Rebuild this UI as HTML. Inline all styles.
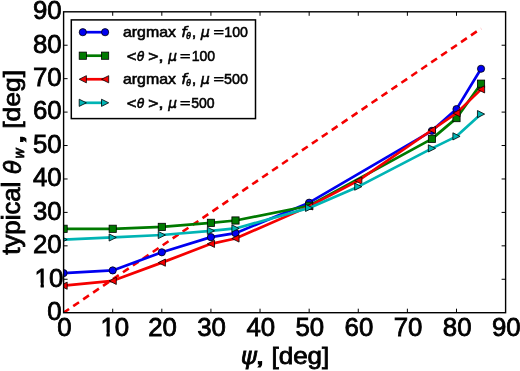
<!DOCTYPE html>
<html><head><meta charset="utf-8"><style>
html,body{margin:0;padding:0;background:#fff;width:520px;height:371px;overflow:hidden}
svg{display:block}
text{font-family:'Liberation Sans', Arial, sans-serif;fill:#000;stroke:#000;stroke-width:0.8px}
.dj{font-family:'DejaVu Sans',sans-serif}
.leg text{stroke-width:0.55px}
.leg text.eq{stroke-width:0.25px}
</style></head><body>
<svg width="520" height="371" viewBox="0 0 520 371"><rect width="520" height="371" fill="#fff"/><defs><clipPath id="ax"><rect x="63.6" y="11.8" width="442.0" height="300.9"/></clipPath></defs>
<g clip-path="url(#ax)">
<line x1="63.60" y1="312.70" x2="481.04" y2="28.52" stroke="#f50000" stroke-width="2.6" stroke-dasharray="7 5.03" stroke-dashoffset="0.38"/>
<polyline points="63.60,273.08 112.71,270.41 161.82,252.29 210.93,237.14 235.49,233.13 309.16,202.70 431.93,130.82 456.49,109.09 481.04,68.77" fill="none" stroke="#0000f0" stroke-width="2.7" stroke-linejoin="round" stroke-linecap="butt"/>
<circle cx="63.60" cy="273.08" r="3.60" fill="#0000f0" stroke="#000" stroke-width="0.8"/>
<circle cx="112.71" cy="270.41" r="3.60" fill="#0000f0" stroke="#000" stroke-width="0.8"/>
<circle cx="161.82" cy="252.29" r="3.60" fill="#0000f0" stroke="#000" stroke-width="0.8"/>
<circle cx="210.93" cy="237.14" r="3.60" fill="#0000f0" stroke="#000" stroke-width="0.8"/>
<circle cx="235.49" cy="233.13" r="3.60" fill="#0000f0" stroke="#000" stroke-width="0.8"/>
<circle cx="309.16" cy="202.70" r="3.60" fill="#0000f0" stroke="#000" stroke-width="0.8"/>
<circle cx="431.93" cy="130.82" r="3.60" fill="#0000f0" stroke="#000" stroke-width="0.8"/>
<circle cx="456.49" cy="109.09" r="3.60" fill="#0000f0" stroke="#000" stroke-width="0.8"/>
<circle cx="481.04" cy="68.77" r="3.60" fill="#0000f0" stroke="#000" stroke-width="0.8"/>
<polyline points="63.60,228.78 112.71,228.78 161.82,226.88 210.93,222.83 235.49,220.49 309.16,205.71 431.93,138.85 456.49,118.12 481.04,83.68" fill="none" stroke="#007a00" stroke-width="2.7" stroke-linejoin="round" stroke-linecap="butt"/>
<rect x="60.00" y="225.18" width="7.20" height="7.20" fill="#007a00" stroke="#000" stroke-width="0.8"/>
<rect x="109.11" y="225.18" width="7.20" height="7.20" fill="#007a00" stroke="#000" stroke-width="0.8"/>
<rect x="158.22" y="223.28" width="7.20" height="7.20" fill="#007a00" stroke="#000" stroke-width="0.8"/>
<rect x="207.33" y="219.23" width="7.20" height="7.20" fill="#007a00" stroke="#000" stroke-width="0.8"/>
<rect x="231.89" y="216.89" width="7.20" height="7.20" fill="#007a00" stroke="#000" stroke-width="0.8"/>
<rect x="305.56" y="202.11" width="7.20" height="7.20" fill="#007a00" stroke="#000" stroke-width="0.8"/>
<rect x="428.33" y="135.25" width="7.20" height="7.20" fill="#007a00" stroke="#000" stroke-width="0.8"/>
<rect x="452.89" y="114.52" width="7.20" height="7.20" fill="#007a00" stroke="#000" stroke-width="0.8"/>
<rect x="477.44" y="80.08" width="7.20" height="7.20" fill="#007a00" stroke="#000" stroke-width="0.8"/>
<polyline points="63.60,285.69 112.71,280.84 161.82,262.62 210.93,243.83 235.49,238.48 309.16,206.38 358.27,180.64 431.93,129.99 456.49,113.10 481.04,89.37" fill="none" stroke="#f50000" stroke-width="2.7" stroke-linejoin="round" stroke-linecap="butt"/>
<polygon points="60.00,285.69 67.20,282.09 67.20,289.29" fill="#f50000" stroke="#000" stroke-width="0.8" stroke-linejoin="miter"/>
<polygon points="109.11,280.84 116.31,277.24 116.31,284.44" fill="#f50000" stroke="#000" stroke-width="0.8" stroke-linejoin="miter"/>
<polygon points="158.22,262.62 165.42,259.02 165.42,266.22" fill="#f50000" stroke="#000" stroke-width="0.8" stroke-linejoin="miter"/>
<polygon points="207.33,243.83 214.53,240.23 214.53,247.43" fill="#f50000" stroke="#000" stroke-width="0.8" stroke-linejoin="miter"/>
<polygon points="231.89,238.48 239.09,234.88 239.09,242.08" fill="#f50000" stroke="#000" stroke-width="0.8" stroke-linejoin="miter"/>
<polygon points="305.56,206.38 312.76,202.78 312.76,209.98" fill="#f50000" stroke="#000" stroke-width="0.8" stroke-linejoin="miter"/>
<polygon points="354.67,180.64 361.87,177.04 361.87,184.24" fill="#f50000" stroke="#000" stroke-width="0.8" stroke-linejoin="miter"/>
<polygon points="428.33,129.99 435.53,126.39 435.53,133.59" fill="#f50000" stroke="#000" stroke-width="0.8" stroke-linejoin="miter"/>
<polygon points="452.89,113.10 460.09,109.50 460.09,116.70" fill="#f50000" stroke="#000" stroke-width="0.8" stroke-linejoin="miter"/>
<polygon points="477.44,89.37 484.64,85.77 484.64,92.97" fill="#f50000" stroke="#000" stroke-width="0.8" stroke-linejoin="miter"/>
<polyline points="63.60,239.58 112.71,237.47 161.82,235.00 210.93,230.79 235.49,228.45 309.16,207.89 358.27,186.66 431.93,148.38 456.49,136.37 481.04,114.11" fill="none" stroke="#00b4b4" stroke-width="2.7" stroke-linejoin="round" stroke-linecap="butt"/>
<polygon points="67.20,239.58 60.00,235.98 60.00,243.18" fill="#00b4b4" stroke="#000" stroke-width="0.8" stroke-linejoin="miter"/>
<polygon points="116.31,237.47 109.11,233.88 109.11,241.07" fill="#00b4b4" stroke="#000" stroke-width="0.8" stroke-linejoin="miter"/>
<polygon points="165.42,235.00 158.22,231.40 158.22,238.60" fill="#00b4b4" stroke="#000" stroke-width="0.8" stroke-linejoin="miter"/>
<polygon points="214.53,230.79 207.33,227.19 207.33,234.39" fill="#00b4b4" stroke="#000" stroke-width="0.8" stroke-linejoin="miter"/>
<polygon points="239.09,228.45 231.89,224.85 231.89,232.05" fill="#00b4b4" stroke="#000" stroke-width="0.8" stroke-linejoin="miter"/>
<polygon points="312.76,207.89 305.56,204.29 305.56,211.49" fill="#00b4b4" stroke="#000" stroke-width="0.8" stroke-linejoin="miter"/>
<polygon points="361.87,186.66 354.67,183.06 354.67,190.26" fill="#00b4b4" stroke="#000" stroke-width="0.8" stroke-linejoin="miter"/>
<polygon points="435.53,148.38 428.33,144.78 428.33,151.98" fill="#00b4b4" stroke="#000" stroke-width="0.8" stroke-linejoin="miter"/>
<polygon points="460.09,136.37 452.89,132.77 452.89,139.97" fill="#00b4b4" stroke="#000" stroke-width="0.8" stroke-linejoin="miter"/>
<polygon points="484.64,114.11 477.44,110.51 477.44,117.71" fill="#00b4b4" stroke="#000" stroke-width="0.8" stroke-linejoin="miter"/>
</g>
<path d="M112.71,312.7V308.7M112.71,11.8V15.8M63.6,279.27H67.6M505.6,279.27H501.6M161.82,312.7V308.7M161.82,11.8V15.8M63.6,245.83H67.6M505.6,245.83H501.6M210.93,312.7V308.7M210.93,11.8V15.8M63.6,212.40H67.6M505.6,212.40H501.6M260.04,312.7V308.7M260.04,11.8V15.8M63.6,178.97H67.6M505.6,178.97H501.6M309.16,312.7V308.7M309.16,11.8V15.8M63.6,145.53H67.6M505.6,145.53H501.6M358.27,312.7V308.7M358.27,11.8V15.8M63.6,112.10H67.6M505.6,112.10H501.6M407.38,312.7V308.7M407.38,11.8V15.8M63.6,78.67H67.6M505.6,78.67H501.6M456.49,312.7V308.7M456.49,11.8V15.8M63.6,45.23H67.6M505.6,45.23H501.6" stroke="#000" stroke-width="1" fill="none"/>
<rect x="63.6" y="11.8" width="442.0" height="300.9" fill="none" stroke="#000" stroke-width="1.4"/>
<defs><clipPath id="cx1"><rect x="95.46" y="296.00" width="43.54" height="36.27"/><rect x="106.50" y="331.27" width="3.18" height="7.73"/><rect x="114.64" y="331.27" width="33.54" height="13.73"/></clipPath><clipPath id="cy1"><rect x="29.60" y="246.57" width="43.54" height="36.27"/><rect x="40.64" y="281.84" width="3.18" height="7.73"/><rect x="48.78" y="281.84" width="33.54" height="13.73"/></clipPath></defs>
<g font-size="25.8"><text x="57.13" y="336.00">0</text><text x="47.25" y="320.00">0</text><text x="100.46" y="336.00" clip-path="url(#cx1)">10</text><text x="34.60" y="286.57" clip-path="url(#cy1)">10</text><text x="148.17" y="336.00">20</text><text x="32.90" y="253.13">20</text><text x="197.28" y="336.00">30</text><text x="32.90" y="219.70">30</text><text x="246.40" y="336.00">40</text><text x="32.90" y="186.27">40</text><text x="295.51" y="336.00">50</text><text x="32.90" y="152.83">50</text><text x="344.62" y="336.00">60</text><text x="32.90" y="119.40">60</text><text x="393.73" y="336.00">70</text><text x="32.90" y="85.97">70</text><text x="442.84" y="336.00">80</text><text x="32.90" y="52.53">80</text><text x="491.95" y="336.00">90</text><text x="32.90" y="19.10">90</text></g>
<g><text x="240.75" y="364.00" font-size="23" class="dj" font-style="italic" textLength="16.07" lengthAdjust="spacingAndGlyphs">ψ</text><text x="255.28" y="364.10" font-size="24" textLength="9.34" lengthAdjust="spacingAndGlyphs">,</text><text x="271.55" y="364.10" font-size="24" textLength="57.70" lengthAdjust="spacingAndGlyphs">[deg]</text></g>
<g transform="translate(20.3,0) rotate(-90)"><text x="-254.69" y="0.00" font-size="25" textLength="73.01" lengthAdjust="spacingAndGlyphs">typical</text><text x="-174.02" y="0.80" font-size="22.8" class="dj" font-style="italic" textLength="14.02" lengthAdjust="spacingAndGlyphs">θ</text><text x="-158.83" y="3.50" font-size="14" class="dj" font-style="italic" textLength="10.92" lengthAdjust="spacingAndGlyphs">w</text><text x="-145.25" y="2.30" font-size="24" textLength="11.61" lengthAdjust="spacingAndGlyphs">,</text><text x="-128.89" y="0.00" font-size="24.5" textLength="58.87" lengthAdjust="spacingAndGlyphs">[deg]</text></g>
<g class="leg"><rect x="71.3" y="19.9" width="184.2" height="98.69999999999999" fill="#fff" stroke="#000" stroke-width="1.5"/><line x1="82.8" y1="32.2" x2="105.1" y2="32.2" stroke="#0000f0" stroke-width="2.7"/><circle cx="82.80" cy="32.20" r="3.60" fill="#0000f0" stroke="#000" stroke-width="0.8"/><circle cx="105.10" cy="32.20" r="3.60" fill="#0000f0" stroke="#000" stroke-width="0.8"/><line x1="82.8" y1="55.7" x2="105.1" y2="55.7" stroke="#007a00" stroke-width="2.7"/><rect x="79.20" y="52.10" width="7.20" height="7.20" fill="#007a00" stroke="#000" stroke-width="0.8"/><rect x="101.50" y="52.10" width="7.20" height="7.20" fill="#007a00" stroke="#000" stroke-width="0.8"/><line x1="82.8" y1="79.26" x2="105.1" y2="79.26" stroke="#f50000" stroke-width="2.7"/><polygon points="79.20,79.26 86.40,75.66 86.40,82.86" fill="#f50000" stroke="#000" stroke-width="0.8" stroke-linejoin="miter"/><polygon points="101.50,79.26 108.70,75.66 108.70,82.86" fill="#f50000" stroke="#000" stroke-width="0.8" stroke-linejoin="miter"/><line x1="82.8" y1="102.8" x2="105.1" y2="102.8" stroke="#00b4b4" stroke-width="2.7"/><polygon points="86.40,102.80 79.20,99.20 79.20,106.40" fill="#00b4b4" stroke="#000" stroke-width="0.8" stroke-linejoin="miter"/><polygon points="108.70,102.80 101.50,99.20 101.50,106.40" fill="#00b4b4" stroke="#000" stroke-width="0.8" stroke-linejoin="miter"/><text x="122.92" y="37.40" font-size="14.5" textLength="53.05" lengthAdjust="spacingAndGlyphs">argmax</text><text x="181.36" y="37.40" font-size="14" class="dj" font-style="italic" textLength="5.41" lengthAdjust="spacingAndGlyphs">f</text><text x="186.19" y="39.10" font-size="8.3" class="dj" font-style="italic" textLength="4.71" lengthAdjust="spacingAndGlyphs">θ</text><text x="191.74" y="37.40" font-size="14.5" textLength="4.53" lengthAdjust="spacingAndGlyphs">,</text><text x="200.89" y="37.40" font-size="13.8" class="dj" font-style="italic" textLength="9.04" lengthAdjust="spacingAndGlyphs">μ</text><text x="212.63" y="37.40" font-size="13.5" class="dj eq" textLength="12.45" lengthAdjust="spacingAndGlyphs">=</text><text x="224.32" y="37.40" font-size="14.5" textLength="23.63" lengthAdjust="spacingAndGlyphs">100</text><text x="126.10" y="60.93" font-size="13.3" class="dj" textLength="11.11" lengthAdjust="spacingAndGlyphs">&lt;</text><text x="137.01" y="60.93" font-size="12.2" class="dj" font-style="italic" textLength="7.47" lengthAdjust="spacingAndGlyphs">θ</text><text x="147.51" y="60.93" font-size="13.3" class="dj" textLength="11.78" lengthAdjust="spacingAndGlyphs">&gt;</text><text x="158.26" y="60.93" font-size="14.5" textLength="5.38" lengthAdjust="spacingAndGlyphs">,</text><text x="168.18" y="60.93" font-size="13.8" class="dj" font-style="italic" textLength="8.73" lengthAdjust="spacingAndGlyphs">μ</text><text x="179.13" y="60.93" font-size="13.5" class="dj eq" textLength="12.45" lengthAdjust="spacingAndGlyphs">=</text><text x="191.73" y="60.93" font-size="14.5" textLength="23.42" lengthAdjust="spacingAndGlyphs">100</text><text x="122.92" y="84.46" font-size="14.5" textLength="53.05" lengthAdjust="spacingAndGlyphs">argmax</text><text x="181.36" y="84.46" font-size="14" class="dj" font-style="italic" textLength="5.41" lengthAdjust="spacingAndGlyphs">f</text><text x="186.19" y="86.16" font-size="8.3" class="dj" font-style="italic" textLength="4.71" lengthAdjust="spacingAndGlyphs">θ</text><text x="191.74" y="84.46" font-size="14.5" textLength="4.53" lengthAdjust="spacingAndGlyphs">,</text><text x="200.89" y="84.46" font-size="13.8" class="dj" font-style="italic" textLength="9.04" lengthAdjust="spacingAndGlyphs">μ</text><text x="212.63" y="84.46" font-size="13.5" class="dj eq" textLength="12.45" lengthAdjust="spacingAndGlyphs">=</text><text x="224.03" y="84.46" font-size="14.5" textLength="23.93" lengthAdjust="spacingAndGlyphs">500</text><text x="126.10" y="108.00" font-size="13.3" class="dj" textLength="11.11" lengthAdjust="spacingAndGlyphs">&lt;</text><text x="137.01" y="108.00" font-size="12.2" class="dj" font-style="italic" textLength="7.47" lengthAdjust="spacingAndGlyphs">θ</text><text x="147.51" y="108.00" font-size="13.3" class="dj" textLength="11.78" lengthAdjust="spacingAndGlyphs">&gt;</text><text x="158.26" y="108.00" font-size="14.5" textLength="5.38" lengthAdjust="spacingAndGlyphs">,</text><text x="168.18" y="108.00" font-size="13.8" class="dj" font-style="italic" textLength="8.73" lengthAdjust="spacingAndGlyphs">μ</text><text x="179.13" y="108.00" font-size="13.5" class="dj eq" textLength="12.45" lengthAdjust="spacingAndGlyphs">=</text><text x="191.14" y="108.00" font-size="14.5" textLength="23.41" lengthAdjust="spacingAndGlyphs">500</text></g></svg>
</body></html>
